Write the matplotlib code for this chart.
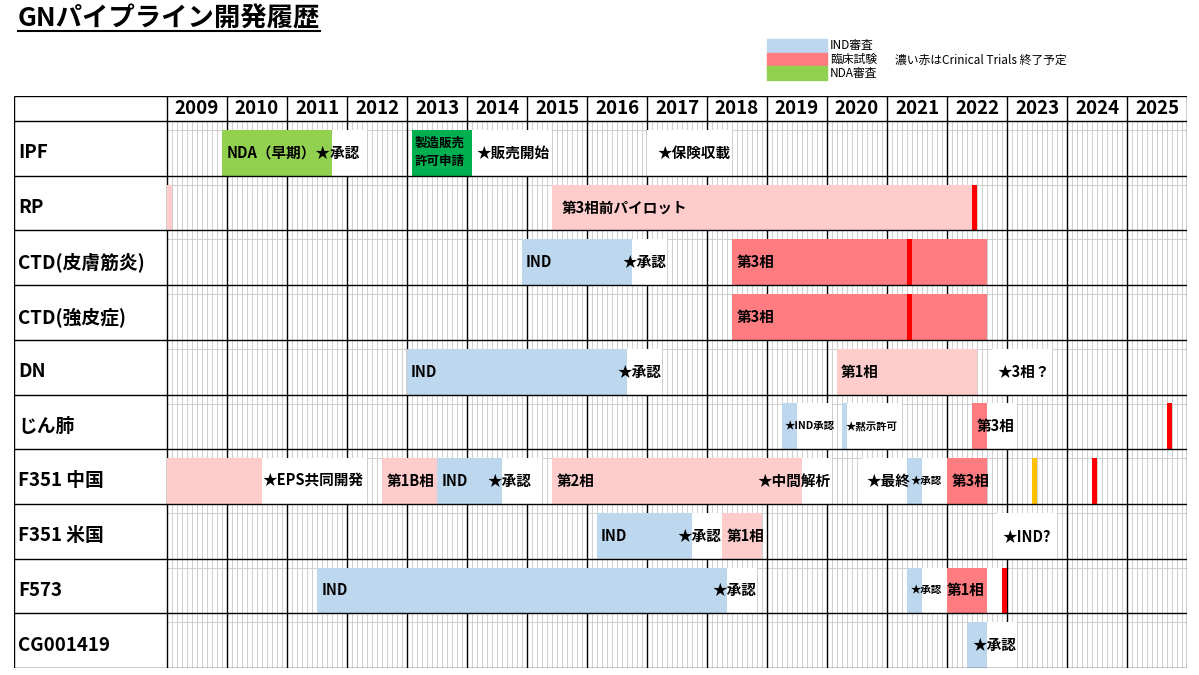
import matplotlib
matplotlib.use("Agg")
import matplotlib.pyplot as plt
from matplotlib.patches import Rectangle
from matplotlib.lines import Line2D

plt.rcParams['font.family'] = ['Noto Sans CJK JP', 'DejaVu Sans']

title = "GNパイプライン開発履歴"
years = list(range(2009, 2026))
rows = ["IPF", "RP", "CTD(皮膚筋炎)", "CTD(強皮症)", "DN", "じん肺",
        "F351 中国", "F351 米国", "F573", "CG001419"]

colors = {
    "ind": "#BDD7EE",
    "trial": "#FFCCCC",
    "trial_dark": "#FF7C80",
    "end": "#FF0000",
    "end_alt": "#FFC000",
    "nda": "#92D050",
    "filing": "#00B050",
    "blank": "#FFFFFF",
}

# (row, first month, last month, kind)
phases = [
    (0, "2009-12", "2011-09", "nda"),
    (0, "2013-02", "2014-01", "filing"),
    (1, "2009-01", "2009-01", "trial"),
    (1, "2015-06", "2022-05", "trial"),
    (1, "2022-06", "2022-06", "end"),
    (2, "2014-12", "2016-09", "ind"),
    (2, "2018-06", "2022-08", "trial_dark"),
    (2, "2021-05", "2021-05", "end"),
    (3, "2018-06", "2022-08", "trial_dark"),
    (3, "2021-05", "2021-05", "end"),
    (4, "2013-01", "2016-08", "ind"),
    (4, "2020-03", "2022-06", "trial"),
    (5, "2019-04", "2019-06", "ind"),
    (5, "2020-04", "2020-04", "ind"),
    (5, "2022-06", "2022-08", "trial_dark"),
    (5, "2025-09", "2025-09", "end"),
    (6, "2009-01", "2010-07", "trial"),
    (6, "2012-08", "2013-06", "trial"),
    (6, "2013-07", "2014-07", "ind"),
    (6, "2015-06", "2019-07", "trial"),
    (6, "2021-05", "2021-07", "ind"),
    (6, "2022-01", "2022-08", "trial_dark"),
    (6, "2023-06", "2023-06", "end_alt"),
    (6, "2024-06", "2024-06", "end"),
    (7, "2016-03", "2017-09", "ind"),
    (7, "2018-04", "2018-11", "trial"),
    (8, "2011-07", "2018-04", "ind"),
    (8, "2021-05", "2021-07", "ind"),
    (8, "2022-01", "2022-08", "trial_dark"),
    (8, "2022-12", "2022-12", "end"),
    (9, "2022-05", "2022-08", "ind"),
]

# white cells under overflowing text
blanks = [
    (0, "2011-10", "2012-04"), (0, "2014-02", "2015-05"), (0, "2017-01", "2018-05"),
    (2, "2016-10", "2017-04"),
    (4, "2016-09", "2017-03"), (4, "2022-10", "2023-09"),
    (5, "2019-07", "2020-01"), (5, "2020-05", "2021-03"), (5, "2022-09", "2023-02"),
    (6, "2010-08", "2012-04"), (6, "2014-08", "2015-03"), (6, "2019-08", "2020-01"),
    (6, "2020-08", "2021-04"), (6, "2021-08", "2021-12"),
    (7, "2017-10", "2018-03"), (7, "2022-11", "2023-10"),
    (8, "2018-05", "2018-10"), (8, "2021-08", "2021-12"), (8, "2022-09", "2022-11"),
    (9, "2022-09", "2023-02"),
]

# (row, x in years, text, small)
notes = [
    (0, 2010.0, "NDA（早期）★承認", False),
    (0, 2014.15, "★販売開始", False),
    (0, 2017.167, "★保険収載", False),
    (1, 2015.583, "第3相前パイロット", False),
    (2, 2014.983, "IND", False),
    (2, 2016.583, "★承認", False),
    (2, 2018.5, "第3相", False),
    (3, 2018.5, "第3相", False),
    (4, 2013.067, "IND", False),
    (4, 2016.5, "★承認", False),
    (4, 2020.233, "第1相", False),
    (4, 2022.833, "★3相？", False),
    (5, 2019.3, "★IND承認", True),
    (5, 2020.317, "★黙示許可", True),
    (5, 2022.5, "第3相", False),
    (6, 2010.583, "★EPS共同開発", False),
    (6, 2012.667, "第1B相", False),
    (6, 2013.583, "IND", False),
    (6, 2014.333, "★承認", False),
    (6, 2015.5, "第2相", False),
    (6, 2018.833, "★中間解析", False),
    (6, 2020.65, "★最終", False),
    (6, 2021.4, "★承認", True),
    (6, 2022.083, "第3相", False),
    (7, 2016.233, "IND", False),
    (7, 2017.5, "★承認", False),
    (7, 2018.333, "第1相", False),
    (7, 2022.917, "★IND?", False),
    (8, 2011.583, "IND", False),
    (8, 2018.083, "★承認", False),
    (8, 2021.4, "★承認", True),
    (8, 2022.0, "第1相", False),
    (9, 2022.417, "★承認", False),
]
filing_note = (0, 2013.133, "製造販売\n許可申請")

legend_items = [("IND審査", "ind"), ("臨床試験", "trial_dark"), ("NDA審査", "nda")]
legend_note = "濃い赤はCrinical Trials 終了予定"


def ym(s):
    y, m = s.split("-")
    return int(y) + (int(m) - 1) / 12


W, H = 1199, 675
fig = plt.figure(figsize=(W / 100, H / 100), dpi=100)
fig.patch.set_facecolor("white")

label_w = 153 / 60      # width of label column, in years
hdr = 25 / 54.7         # header row height, in rows
strip = 9 / 54.7        # thin strip on top of each row
x0 = years[0] - label_w
x1 = years[-1] + 1
n = len(rows)

ax = fig.add_axes([14 / W, 1 - 668 / H, (1187 - 14) / W, (668 - 96) / H])
ax.set_xlim(x0, x1)
ax.set_ylim(n, -hdr)
ax.axis("off")

grey = "#D0D0D0"
# month lines
for y in years:
    for m in range(1, 12):
        ax.vlines(y + m / 12, 0, n, color=grey, lw=0.75, zorder=1)
for i in range(n):
    ax.hlines(i + strip, years[0], x1, color=grey, lw=0.75, zorder=1)
# year lines
for y in years + [x1]:
    ax.vlines(y, -hdr, n, color="black", lw=1.0, zorder=2)
ax.vlines(x0, -hdr, n, color="black", lw=1.0, zorder=4)

for r, a, b, kind in phases:
    s, e = ym(a), ym(b) + 1 / 12
    ax.barh(r + strip + (1 - strip) / 2, e - s, left=s, height=1 - strip,
            color=colors[kind], linewidth=0, zorder=3)
for r, a, b in blanks:
    s, e = ym(a), ym(b) + 1 / 12
    ax.barh(r + strip + (1 - strip) / 2, e - s, left=s, height=1 - strip,
            color=colors["blank"], linewidth=0, zorder=2.5)

# row lines
for i in range(n + 1):
    ax.hlines(i, x0, x1, color="black", lw=1.0, zorder=4)
ax.hlines(-hdr, x0, x1, color="black", lw=1.0, zorder=4)

for y in years:
    ax.text(y + 0.5, -hdr / 2, str(y), ha="center", va="center",
            fontsize=13.5, fontweight="bold", zorder=5)
for i, lab in enumerate(rows):
    ax.text(x0 + 0.07, i + 0.58, lab, ha="left", va="center",
            fontsize=13.5, fontweight="bold", zorder=5)

for r, x, t, small in notes:
    ax.text(x, r + 0.58, t, ha="left", va="center",
            fontsize=7.5 if small else 10.5, fontweight="bold", zorder=5)
r, x, t = filing_note
ax.text(x, r + 0.58, t, ha="left", va="center", fontsize=9,
        fontweight="bold", linespacing=1.5, zorder=5)

# title with underline
tt = fig.text(18 / W, 1 - 19 / H, title, ha="left", va="center",
              fontsize=19, fontweight="bold")
fig.canvas.draw()
bb = tt.get_window_extent(fig.canvas.get_renderer())
fig.add_artist(Line2D([bb.x0 / W, bb.x1 / W], [1 - 31 / H, 1 - 31 / H],
                      color="black", lw=1.5, transform=fig.transFigure))

# legend
for k, (lab, kind) in enumerate(legend_items):
    top = 39 + k * 13.7
    fig.patches.append(Rectangle((767 / W, 1 - (top + 13.7) / H), 60 / W, 13.7 / H,
                                 transform=fig.transFigure, color=colors[kind]))
    fig.text(830 / W, 1 - (top + 6.8) / H, lab, ha="left", va="center", fontsize=8.5)
fig.text(895 / W, 1 - 60 / H, legend_note, ha="left", va="center", fontsize=8.5)

fig.savefig("out.png", dpi=100)
